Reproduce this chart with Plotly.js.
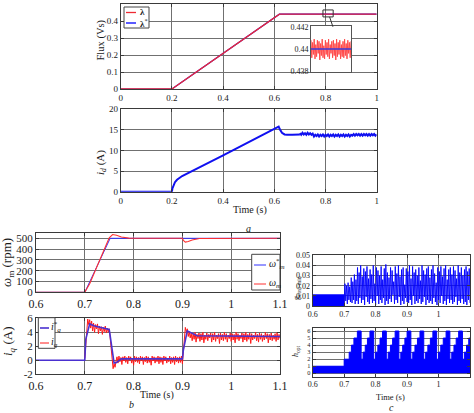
<!DOCTYPE html>
<html>
<head>
<meta charset="utf-8">
<script src="https://cdn.plot.ly/plotly-3.0.1.min.js"></script>
<style>
  html, body { margin: 0; padding: 0; background: #ffffff; }
  #fig { width: 474px; height: 413px; }
</style>
</head>
<body>
<div id="fig"></div>
<script>
// ---------- (a) stator flux and d-axis current during magnetisation ----------
const fluxT      = [0, 0.2, 0.62, 1];
const fluxRefV   = [0, 0, 0.44, 0.44];      // lambda*
const fluxV      = [0, 0, 0.44, 0.44];      // lambda

// zoomed window around t = 0.8 s (ripple of the estimated flux)
const insetT0 = 0.79, insetDt = 0.0008;
const fluxRippleV = [
  0.4408,0.4392,0.4406,0.4395,0.4409,0.4391,0.4404,0.4393,0.4408,0.4396,
  0.4407,0.4390,0.4405,0.4394,0.4409,0.4392,0.4403,0.4391,0.4408,0.4395,
  0.4406,0.4393,0.4409,0.4391,0.4404,0.4396,0.4407,0.4392,0.4408,0.4394,
  0.4405,0.4390,0.4409,0.4393,0.4406,0.4395,0.4408,0.4391,0.4404,0.4393,
  0.4407,0.4392,0.4409,0.4394,0.4405,0.4391,0.4408,0.4396,0.4406,0.4392,0.4407
];
const insetRefT = [0.79, 0.83];
const insetRefV = [0.44, 0.44];

const idT = [0, 0.2, 0.202, 0.206, 0.212, 0.22, 0.23, 0.24, 0.4, 0.6, 0.617, 0.622, 0.63, 0.64, 0.65, 0.67, 0.7];
const idV = [0, 0, 0.8, 1.6, 2.3, 2.9, 3.4, 3.8, 8.8, 15.2, 15.8, 15.1, 14.3, 13.9, 13.8, 13.8, 13.9];
const idRippleT0 = 0.7, idRippleDt = 0.005;
const idRippleV = [
  14.2,13.8,14.3,13.9,14.2,13.8,14.3,13.9,14.2,13.8,14.1,
  13.4,13.8,13.5,13.9,13.4,13.8,13.5,13.9,13.4,13.8,
  13.5,13.9,13.4,13.8,13.5,13.9,13.4,13.8,13.5,13.9,
  13.4,13.8,13.5,13.9,13.4,13.8,13.5,13.9,13.4,13.8,
  13.6,14.0,13.6,14.0,13.7,14.0,13.6,14.0,13.6,14.0,
  13.7,14.0,13.6,14.0,13.6,14.0,13.7,14.0,13.6,13.9
];

// ---------- (b) speed and q-axis current ----------
const wRefT = [0.6, 0.7, 0.752, 1.1];
const wRefV = [0, 0, 500, 500];
const wT = [0.6, 0.7, 0.71, 0.72, 0.73, 0.74, 0.75, 0.757, 0.765, 0.775, 0.79, 0.81, 0.9, 0.902, 0.906, 0.912, 0.92, 0.935, 1.1];
const wV = [0, 0, 80, 190, 300, 410, 505, 535, 528, 512, 502, 500, 500, 480, 465, 470, 485, 498, 500];

const iqRefT = [0.6, 0.7, 0.702, 0.71, 0.72, 0.75, 0.752, 0.76, 0.765, 0.775, 0.9, 0.902, 0.91, 0.92, 0.93, 1.1];
const iqRefV = [0, 0, 3.0, 5.2, 4.9, 4.4, 3.5, -0.4, -0.3, 0.2, 0.2, 1.5, 4.2, 3.8, 3.5, 3.4];
const iqT0 = 0.7, iqDt = 0.002;
const iqV = [
  0.3, 2.6, 4.9, 5.9, 5.1, 5.8,
  4.6, 5.6, 4.2, 5.3, 4.0, 5.1, 4.5, 5.2, 3.8, 4.9, 4.2, 4.8, 3.7, 4.7, 4.1, 4.9, 3.9, 4.6, 4.0, 4.5,
  3.2, 1.4, -0.2, -1.2, -0.5, -1.0, -0.1,
  0.5,-0.4,0.6,-0.2,0.4,-0.6,0.5,-0.1,0.6,-0.3,0.4,-0.5,0.6,0.0,0.5,-0.4,0.3,-0.7,0.6,-0.2,
  0.5,-0.3,0.4,-0.5,0.6,-0.1,0.5,-0.6,0.4,-0.2,0.6,-0.4,0.5,-0.3,0.3,-0.7,0.6,-0.1,0.5,-0.4,
  0.4,-0.2,0.6,-0.5,0.5,-0.3,0.4,-0.6,0.6,-0.1,0.5,-0.4,0.3,-0.2,0.6,-0.5,0.4,-0.3,0.5,-0.6,
  0.6,-0.2,0.4,-0.4,0.5,-0.3,0.6,-0.5,
  1.8, 3.6, 4.7, 4.0, 4.5, 3.4, 4.1, 3.2,
  3.9,2.8,3.8,3.0,4.0,2.6,3.7,3.1,3.9,2.7,
  3.8,2.9,4.0,2.5,3.6,3.0,3.9,2.8,3.7,3.2,
  3.9,2.6,3.8,2.9,4.0,2.7,3.6,3.1,3.8,2.4,
  3.9,2.9,3.7,2.8,4.0,3.0,3.8,2.6,3.6,3.1,
  3.9,2.7,3.8,2.9,3.7,2.5,4.0,3.0,3.8,2.8,
  3.6,3.1,3.9,2.6,3.8,2.9,4.0,2.7,3.7,3.0,
  3.9,2.4,3.8,2.9,3.6,3.1,4.0,2.8,3.7,2.6,
  3.9,3.0,3.8,2.7,3.6,2.9,4.0,3.1,3.8,2.5,
  3.7,2.9,3.9,2.8,3.6,3.0,3.8,2.7,4.0,2.9,
  3.7,3.1
];

// ---------- (c) minimum cost function and optimal horizon ----------
const gIdleT = [0.6, 0.7];
const gIdleV = [0.011, 0.011];
const gT0 = 0.7, gDt = 0.0025;
const gV = [
  0.003,0.022,0.005,0.020,0.002,0.023,0.006,0.019,
  0.004,0.028,0.003,0.024,0.006,0.031,0.002,0.026,
  0.005,0.038,0.002,0.033,0.008,0.040,0.003,0.029,0.006,0.037,
  0.001,0.034,0.009,0.039,0.004,0.027,0.002,0.036,0.007,0.031,
  0.003,0.040,0.005,0.022,0.001,0.038,0.010,0.035,0.002,0.030,
  0.006,0.039,0.003,0.026,0.008,0.037,0.001,0.041,0.005,0.033,
  0.002,0.028,0.007,0.038,0.004,0.035,0.011,0.024,0.002,0.039,
  0.006,0.032,0.003,0.040,0.009,0.029,0.001,0.036,0.005,0.038,
  0.002,0.021,0.008,0.037,0.004,0.034,0.003,0.040,0.006,0.027,
  0.001,0.039,0.010,0.033,0.002,0.036,0.005,0.030,0.003,0.038,
  0.007,0.025,0.002,0.040,0.004,0.035,0.009,0.031,0.001,0.037,
  0.006,0.039,0.003,0.028,0.005,0.036,0.002,0.040,0.008,0.032,
  0.004,0.023,0.001,0.038,0.006,0.034,0.003,0.039,0.010,0.029,
  0.002,0.037,0.005,0.040,0.001,0.026,0.007,0.036,0.003,0.038,
  0.006,0.031,0.002,0.039,0.004,0.035,0.009,0.027,0.001,0.040,
  0.005,0.033,0.003,0.038,0.007,0.030,0.002,0.036,0.004,0.039,
  0.001,0.034,0.006,0.037,0.003
];

const hT = [0.6, 0.7, 0.716, 0.723, 0.731,
  0.742, 0.754, 0.760, 0.767, 0.774,
  0.782, 0.794, 0.800, 0.807, 0.814,
  0.822, 0.834, 0.840, 0.847, 0.854,
  0.862, 0.874, 0.880, 0.886, 0.893,
  0.900, 0.912, 0.918, 0.925, 0.933,
  0.941, 0.953, 0.959, 0.966, 0.974,
  0.982, 0.994, 1.000, 1.007, 1.015,
  1.024, 1.036, 1.042, 1.049, 1.056,
  1.064, 1.076, 1.082, 1.089, 1.096, 1.1];
const hV = [1, 2, 3, 4, 5,
  6, 2, 3, 4, 5,
  6, 2, 3, 4, 5,
  6, 2, 3, 4, 5,
  6, 2, 3, 4, 5,
  6, 2, 3, 4, 5,
  6, 2, 3, 4, 5,
  6, 2, 3, 4, 5,
  6, 2, 3, 4, 5,
  6, 2, 3, 4, 5, 5];

// ---------- tick labels ----------
const tA = [0, 0.2, 0.4, 0.6, 0.8, 1];
const tALab = ['0', '0.2', '0.4', '0.6', '0.8', '1'];
const fluxTicks = [0, 0.1, 0.2, 0.3, 0.4, 0.5];
const fluxTickLab = ['0', '0.1', '0.2', '0.3', '0.4', '0.5'];
const idTicks = [0, 5, 10, 15, 20];
const insetTicks = [0.438, 0.44, 0.442];
const insetTickLab = ['0.438', '0.44', '0.442'];
const tB = [0.6, 0.7, 0.8, 0.9, 1.0, 1.1];
const tBLab = ['0.6', '0.7', '0.8', '0.9', '1', '1.1'];
const wTicks = [0, 100, 200, 300, 400, 500];
const iqTicks = [-2, 0, 2, 4, 6];
const gTicks = [0, 0.01, 0.02, 0.03, 0.04, 0.05];
const gTickLab = ['0', '0.01', '0.02', '0.03', '0.04', '0.05'];
const hTicks = [0, 1, 2, 3, 4, 5, 6];

// ---------- layout helpers (pixel -> paper) ----------
const W = 474, H = 413;
const px = v => v / W;
const py = v => 1 - v / H;
const FONT = '"Liberation Serif", "Times New Roman", serif';
const RED = '#ff1a1a', BLUE = '#0000ff';

function axis(domain, range, tickvals, ticktext, size, anchor, extra) {
  return Object.assign({
    domain: domain, range: range, anchor: anchor,
    tickmode: 'array', tickvals: tickvals, ticktext: ticktext || tickvals.map(String),
    showgrid: true, gridcolor: '#707070', gridwidth: 1,
    showline: true, mirror: 'ticks', linecolor: '#3a3a3a', linewidth: 1,
    ticks: 'inside', ticklen: 3, tickcolor: '#3a3a3a',
    zeroline: false, fixedrange: true,
    tickfont: { family: FONT, size: size, color: '#1a1a1a' }
  }, extra || {});
}

const traces = [
  // (a) flux
  { x: fluxT, y: fluxRefV, xaxis: 'x', yaxis: 'y', mode: 'lines', line: { color: BLUE, width: 1.2 }, hoverinfo: 'skip' },
  { x: fluxT, y: fluxV, xaxis: 'x', yaxis: 'y', mode: 'lines', line: { color: '#ee2a33', width: 1.3 }, hoverinfo: 'skip' },
  // inset
  { x0: insetT0, dx: insetDt, y: fluxRippleV, xaxis: 'x3', yaxis: 'y3', mode: 'lines', line: { color: '#ff4a4a', width: 1 }, hoverinfo: 'skip' },
  { x: insetRefT, y: insetRefV, xaxis: 'x3', yaxis: 'y3', mode: 'lines', line: { color: '#3a3ad8', width: 1.4 }, hoverinfo: 'skip' },
  // (a) id
  { x: idT, y: idV, xaxis: 'x2', yaxis: 'y2', mode: 'lines', line: { color: '#1010f0', width: 2 }, hoverinfo: 'skip' },
  { x0: idRippleT0, dx: idRippleDt, y: idRippleV, xaxis: 'x2', yaxis: 'y2', mode: 'lines', line: { color: '#1010f0', width: 2 }, hoverinfo: 'skip' },
  // (b) speed
  { x: wRefT, y: wRefV, xaxis: 'x4', yaxis: 'y4', mode: 'lines', line: { color: '#3030ff', width: 1 }, hoverinfo: 'skip' },
  { x: wT, y: wV, xaxis: 'x4', yaxis: 'y4', mode: 'lines', line: { color: '#ff3030', width: 1.1 }, hoverinfo: 'skip' },
  // (b) iq
  { x0: iqT0, dx: iqDt, y: iqV, xaxis: 'x5', yaxis: 'y5', mode: 'lines', line: { color: RED, width: 1 }, hoverinfo: 'skip' },
  { x: iqRefT, y: iqRefV, xaxis: 'x5', yaxis: 'y5', mode: 'lines', line: { color: '#4a30d0', width: 1.6 }, hoverinfo: 'skip' },
  // (c) g_cost-min
  { x: gIdleT, y: gIdleV, xaxis: 'x6', yaxis: 'y6', mode: 'lines', fill: 'tozeroy', fillcolor: BLUE, line: { color: BLUE, width: 1 }, hoverinfo: 'skip' },
  { x0: gT0, dx: gDt, y: gV, xaxis: 'x6', yaxis: 'y6', mode: 'lines', line: { color: BLUE, width: 0.9 }, hoverinfo: 'skip' },
  // (c) h_opt
  { x: hT, y: hV, xaxis: 'x7', yaxis: 'y7', mode: 'lines', line: { color: BLUE, width: 1, shape: 'hv' }, fill: 'tozeroy', fillcolor: BLUE, hoverinfo: 'skip' }
];

const dAx = [px(120.7), px(376.7)];
const dBx = [px(36), px(280)];
const dCx = [px(312.7), px(470)];

const layout = {
  width: W, height: H,
  margin: { l: 0, r: 0, t: 0, b: 0 },
  paper_bgcolor: '#ffffff', plot_bgcolor: '#ffffff',
  showlegend: false,
  font: { family: FONT, color: '#1a1a1a' },

  xaxis:  axis(dAx, [0, 1], tA, tALab, 9, 'y'),
  yaxis:  axis([py(89), py(4)], [0, 0.5], fluxTicks, fluxTickLab, 9, 'x'),
  xaxis2: axis(dAx, [0, 1], tA, tALab, 9, 'y2'),
  yaxis2: axis([py(191.7), py(109.3)], [0, 20], idTicks, null, 9, 'x2'),
  xaxis3: axis([px(311), px(351)], [0.79, 0.83], [], [], 8, 'y3', { showgrid: false, ticks: '', showticklabels: false, linecolor: '#555' }),
  yaxis3: axis([py(72), py(26)], [0.4379, 0.4421], insetTicks, insetTickLab, 8, 'x3', { showgrid: false, ticks: '', linecolor: '#555', mirror: true }),

  xaxis4: axis(dBx, [0.6, 1.1], tB, tBLab, 12, 'y4'),
  yaxis4: axis([py(292.3), py(232.9)], [0, 550], wTicks, null, 11, 'x4'),
  xaxis5: axis(dBx, [0.6, 1.1], tB, tBLab, 12, 'y5'),
  yaxis5: axis([py(374.3), py(318.3)], [-2, 6], iqTicks, null, 11, 'x5'),

  xaxis6: axis(dCx, [0.6, 1.1], tB, tBLab, 8, 'y6'),
  yaxis6: axis([py(306), py(255.3)], [0, 0.05], gTicks, gTickLab, 8, 'x6'),
  xaxis7: axis(dCx, [0.6, 1.1], tB, tBLab, 8, 'y7'),
  yaxis7: axis([py(376.8), py(327.5)], [-0.5, 6.5], hTicks, null, 6.3, 'x7'),

  shapes: [
    // zoom window and its pointer in the flux plot
    { type: 'rect', xref: 'x', yref: 'y', x0: 0.79, x1: 0.83, y0: 0.424, y1: 0.465, line: { color: '#333', width: 1 } },
    { type: 'line', xref: 'x', yref: 'y', x0: 0.816, y0: 0.424, x1: 0.829, y1: 0.366, line: { color: '#333', width: 1 } },
    // legend (a)
    { type: 'rect', xref: 'paper', yref: 'paper', x0: px(124), x1: px(149), y0: py(28), y1: py(7), fillcolor: '#fff', line: { color: '#444', width: 1 } },
    { type: 'line', xref: 'paper', yref: 'paper', x0: px(126), x1: px(136), y0: py(12.5), y1: py(12.5), line: { color: '#ee2a33', width: 1.3 } },
    { type: 'line', xref: 'paper', yref: 'paper', x0: px(126), x1: px(136), y0: py(23), y1: py(23), line: { color: BLUE, width: 1.3 } },
    // legend (b) speed
    { type: 'rect', xref: 'paper', yref: 'paper', x0: px(251.7), x1: px(280), y0: py(290), y1: py(254.3), fillcolor: '#fff', line: { color: '#444', width: 1 } },
    { type: 'line', xref: 'paper', yref: 'paper', x0: px(254), x1: px(266), y0: py(265), y1: py(265), line: { color: '#3030ff', width: 1 } },
    { type: 'line', xref: 'paper', yref: 'paper', x0: px(254), x1: px(266), y0: py(284), y1: py(284), line: { color: '#ff3030', width: 1 } },
    // legend (b) current
    { type: 'rect', xref: 'paper', yref: 'paper', x0: px(38.3), x1: px(55), y0: py(348.3), y1: py(317.7), fillcolor: '#fff', line: { color: '#444', width: 1 } },
    { type: 'line', xref: 'paper', yref: 'paper', x0: px(40), x1: px(49), y0: py(328), y1: py(328), line: { color: '#4a30d0', width: 1.6 } },
    { type: 'line', xref: 'paper', yref: 'paper', x0: px(40), x1: px(49), y0: py(343), y1: py(343), line: { color: RED, width: 1 } }
  ],

  annotations: [
    // legend texts
    { xref: 'paper', yref: 'paper', x: px(138), y: py(12.5), text: '<b>λ</b>', showarrow: false, xanchor: 'left', yanchor: 'middle', font: { family: FONT, size: 9 } },
    { xref: 'paper', yref: 'paper', x: px(138), y: py(23), text: '<b>λ</b><sup>*</sup>', showarrow: false, xanchor: 'left', yanchor: 'middle', font: { family: FONT, size: 9 } },
    { xref: 'paper', yref: 'paper', x: px(266.5), y: py(264), text: '<i>ω</i><sup>*</sup><sub><i>m</i></sub>', showarrow: false, xanchor: 'left', yanchor: 'middle', font: { family: FONT, size: 10 } },
    { xref: 'paper', yref: 'paper', x: px(266.5), y: py(283), text: '<i>ω</i><sub><i>m</i></sub>', showarrow: false, xanchor: 'left', yanchor: 'middle', font: { family: FONT, size: 10 } },
    { xref: 'paper', yref: 'paper', x: px(49), y: py(327), text: '<i>i</i><sup>*</sup><sub><i>q</i></sub>', showarrow: false, xanchor: 'left', yanchor: 'middle', font: { family: FONT, size: 10 } },
    { xref: 'paper', yref: 'paper', x: px(49), y: py(342), text: '<i>i</i><sub><i>q</i></sub>', showarrow: false, xanchor: 'left', yanchor: 'middle', font: { family: FONT, size: 10 } },

    // axis titles (a)
    { xref: 'paper', yref: 'paper', x: px(100.5), y: py(40), text: 'Flux (Vs)', textangle: -90, showarrow: false, xanchor: 'center', yanchor: 'middle', font: { family: FONT, size: 10.5 } },
    { xref: 'paper', yref: 'paper', x: px(101), y: py(163), text: '<i>i</i><sub><i>d</i></sub> (A)', textangle: -90, showarrow: false, xanchor: 'center', yanchor: 'middle', font: { family: FONT, size: 11 } },
    { xref: 'paper', yref: 'paper', x: px(250), y: py(210), text: 'Time (s)', showarrow: false, xanchor: 'center', yanchor: 'middle', font: { family: FONT, size: 10 } },
    { xref: 'paper', yref: 'paper', x: px(248), y: py(228), text: '<i>a</i>', showarrow: false, xanchor: 'center', yanchor: 'middle', font: { family: FONT, size: 10 } },

    // axis titles (b)
    { xref: 'paper', yref: 'paper', x: px(7), y: py(263), text: '<i>ω</i><sub>m</sub> (rpm)', textangle: -90, showarrow: false, xanchor: 'center', yanchor: 'middle', font: { family: FONT, size: 13 } },
    { xref: 'paper', yref: 'paper', x: px(8), y: py(342), text: '<i>i</i><sub><i>q</i></sub> (A)', textangle: -90, showarrow: false, xanchor: 'center', yanchor: 'middle', font: { family: FONT, size: 13 } },
    { xref: 'paper', yref: 'paper', x: px(157), y: py(395), text: 'Time (s)', showarrow: false, xanchor: 'center', yanchor: 'middle', font: { family: FONT, size: 10 } },
    { xref: 'paper', yref: 'paper', x: px(131.5), y: py(404.5), text: '<i>b</i>', showarrow: false, xanchor: 'center', yanchor: 'middle', font: { family: FONT, size: 10 } },

    // axis titles (c)
    { xref: 'paper', yref: 'paper', x: px(297), y: py(288), text: 'g<sub>cost-min</sub>', textangle: -90, showarrow: false, xanchor: 'center', yanchor: 'middle', font: { family: FONT, size: 8 } },
    { xref: 'paper', yref: 'paper', x: px(296), y: py(351), text: '<i>h</i><sub>opt</sub>', textangle: -90, showarrow: false, xanchor: 'center', yanchor: 'middle', font: { family: FONT, size: 8 } },
    { xref: 'paper', yref: 'paper', x: px(390), y: py(396.5), text: 'Time (s)', showarrow: false, xanchor: 'center', yanchor: 'middle', font: { family: FONT, size: 8.5 } },
    { xref: 'paper', yref: 'paper', x: px(391.5), y: py(407.5), text: '<i>c</i>', showarrow: false, xanchor: 'center', yanchor: 'middle', font: { family: FONT, size: 10 } }
  ]
};

Plotly.newPlot('fig', traces, layout, { staticPlot: true, displayModeBar: false });
</script>
</body>
</html>
